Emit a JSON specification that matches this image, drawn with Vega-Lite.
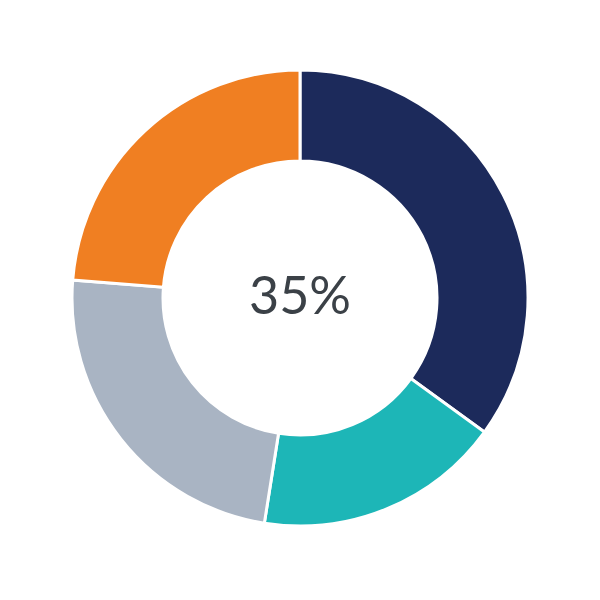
{
  "$schema": "https://vega.github.io/schema/vega-lite/v6.json",
  "width": 600,
  "height": 600,
  "autosize": {"type": "fit", "contains": "padding"},
  "padding": {"top": 0, "bottom": 4, "left": 0, "right": 0},
  "background": "white",
  "view": {"stroke": null},
  "data": {
    "values": [
      {"segment": "A", "value": 35, "order": 1},
      {"segment": "B", "value": 17.5, "order": 2},
      {"segment": "C", "value": 23.75, "order": 3},
      {"segment": "D", "value": 23.75, "order": 4}
    ]
  },
  "layer": [
    {
      "mark": {"type": "arc", "outerRadius": 228, "innerRadius": 137, "stroke": "white", "strokeWidth": 3},
      "encoding": {
        "theta": {"field": "value", "type": "quantitative", "stack": true},
        "order": {"field": "order", "type": "quantitative"},
        "color": {
          "field": "segment",
          "type": "nominal",
          "scale": {"domain": ["A", "B", "C", "D"], "range": ["#1c2a5b", "#1db6b7", "#a9b4c3", "#f07f22"]},
          "legend": null
        }
      }
    },
    {
      "data": {"values": [{"label": "35%"}]},
      "mark": {"type": "text", "font": "Lato", "fontSize": 52, "fontWeight": "normal", "color": "#3b4147", "align": "center", "baseline": "middle"},
      "encoding": {"text": {"field": "label"}}
    }
  ]
}
